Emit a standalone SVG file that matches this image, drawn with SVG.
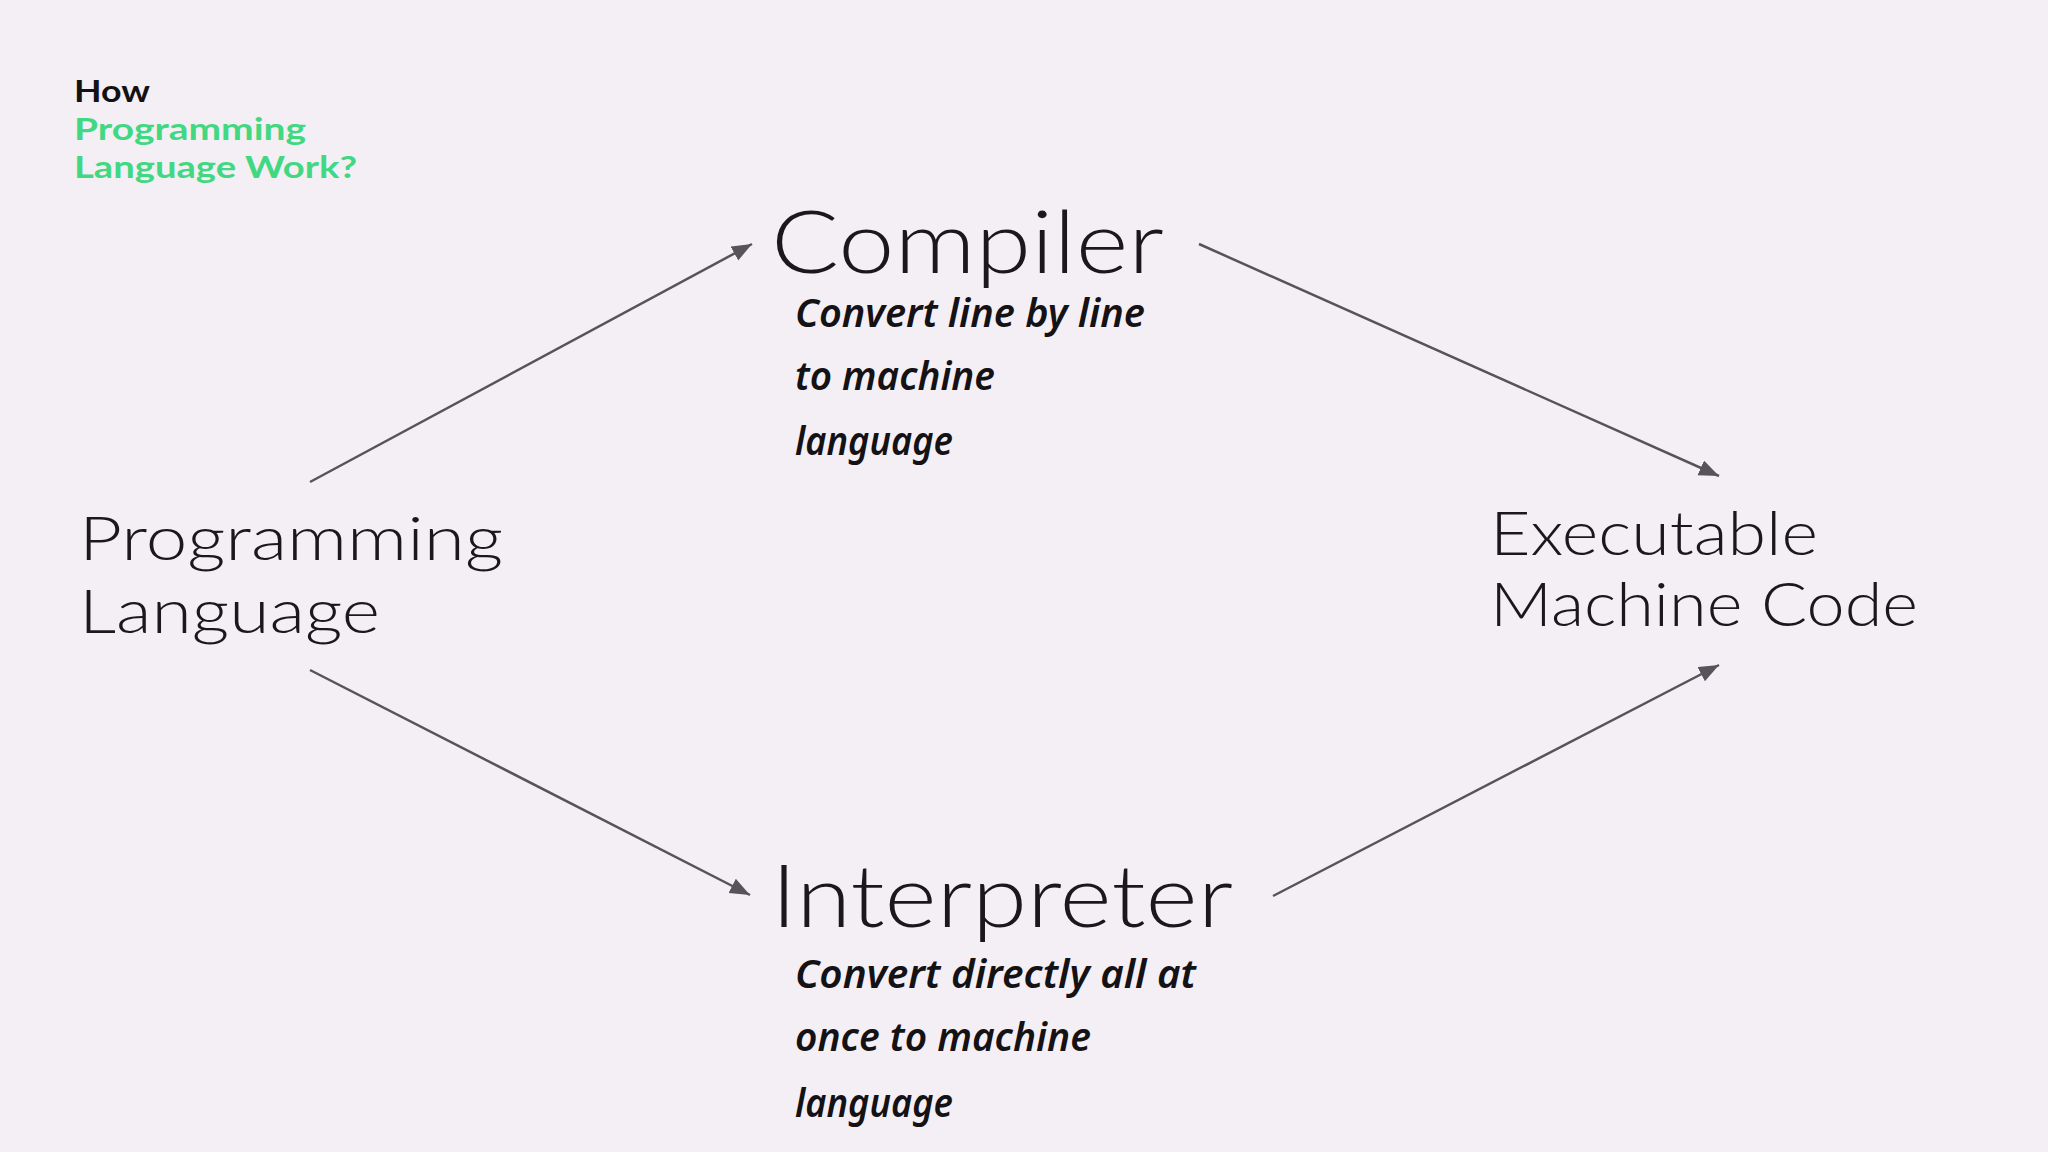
<svg xmlns="http://www.w3.org/2000/svg" width="2048" height="1152" viewBox="0 0 2048 1152">
  <defs>
    <marker id="arrow" markerUnits="userSpaceOnUse" markerWidth="22" markerHeight="18" refX="20" refY="8" orient="auto">
      <path d="M0,0 L20,8 L0,16 z" fill="#56545a"/>
    </marker>
    <style>
      .title { font-family: "Lato", "Inter", "Liberation Sans", sans-serif; font-weight: 700; font-size: 31px; }
      .dark { fill: #121212; }
      .green { fill: #42d882; }
      .node { font-family: "Lato", "Inter", "Open Sans", sans-serif; font-weight: 300; fill: #1b171c; }
      .big { font-size: 86px; }
      .mid { font-size: 61px; }
      .note { font-family: "Noto Sans", "Open Sans", "DejaVu Sans", sans-serif; font-style: italic; font-weight: 600; font-size: 40px; fill: #141214; }
      .conn { stroke: #56545a; stroke-width: 2.5; fill: none; marker-end: url(#arrow); }
    </style>
  </defs>
  <rect width="2048" height="1152" fill="#f4eff5"/>

  <g id="title">
    <text class="title dark" x="74" y="102" textLength="76" lengthAdjust="spacingAndGlyphs">How</text>
    <text class="title green" x="74" y="140" textLength="232" lengthAdjust="spacingAndGlyphs">Programming</text>
    <text class="title green" x="74" y="178" textLength="283" lengthAdjust="spacingAndGlyphs">Language Work?</text>
  </g>

  <g id="connectors">
    <line class="conn" x1="310" y1="482" x2="752" y2="244"/>
    <line class="conn" x1="1199" y1="244" x2="1719" y2="476"/>
    <line class="conn" x1="310" y1="670" x2="750" y2="895"/>
    <line class="conn" x1="1273" y1="896" x2="1719" y2="665"/>
  </g>

  <g id="programming-language">
    <text class="node mid" x="79" y="560" textLength="424" lengthAdjust="spacingAndGlyphs">Programming</text>
    <text class="node mid" x="79" y="633" textLength="301" lengthAdjust="spacingAndGlyphs">Language</text>
  </g>

  <g id="compiler">
    <text class="node big" x="771" y="273" textLength="393" lengthAdjust="spacingAndGlyphs">Compiler</text>
    <text class="note" x="795" y="327" textLength="350" lengthAdjust="spacingAndGlyphs">Convert line by line</text>
    <text class="note" x="795" y="390" textLength="200" lengthAdjust="spacingAndGlyphs">to machine</text>
    <text class="note" x="795" y="455" textLength="158" lengthAdjust="spacingAndGlyphs">language</text>
  </g>

  <g id="interpreter">
    <text class="node big" x="771" y="927" textLength="462" lengthAdjust="spacingAndGlyphs">Interpreter</text>
    <text class="note" x="795" y="988" textLength="401" lengthAdjust="spacingAndGlyphs">Convert directly all at</text>
    <text class="note" x="795" y="1051" textLength="296" lengthAdjust="spacingAndGlyphs">once to machine</text>
    <text class="note" x="795" y="1117" textLength="158" lengthAdjust="spacingAndGlyphs">language</text>
  </g>

  <g id="executable-machine-code">
    <text class="node mid" x="1490" y="555" textLength="328" lengthAdjust="spacingAndGlyphs">Executable</text>
    <text class="node mid" x="1490" y="626" textLength="428" lengthAdjust="spacingAndGlyphs">Machine Code</text>
  </g>
</svg>
